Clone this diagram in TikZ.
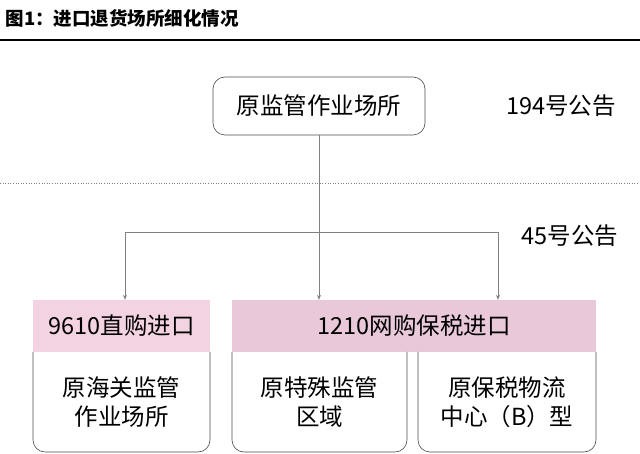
\documentclass[tikz,border=0pt]{standalone}
\usepackage{fontspec}
\usetikzlibrary{arrows.meta}
\setmainfont{Noto Sans CJK SC}
\definecolor{pinkA}{HTML}{F3D3E2}
\definecolor{pinkB}{HTML}{E8C8D9}
\definecolor{ln}{HTML}{808080}
\begin{document}
\begin{tikzpicture}[x=1pt,y=-1pt,
  lbl/.style={font=\fontsize{23.5}{29}\selectfont},
  conn/.style={draw=ln,line width=0.6pt,-{Stealth[length=5pt,width=4pt]}},
  box/.style={draw=black!70,line width=0.6pt}]
\useasboundingbox (0,0) rectangle (640,454);
\node[anchor=west,font=\fontsize{18.5}{22}\selectfont\bfseries] (title) at (2,18) {图1：进口退货场所细化情况};
\draw[line width=1.6pt] (0,40) -- (640,40);
\node[box,rounded corners=12pt,minimum width=212pt,minimum height=58pt,lbl] (top) at (319,106) {原监管作业场所};
\node[lbl] (n194) at (561,106) {194号公告};
\draw[dotted,line width=0.6pt,draw=ln] (0,183) -- (640,183);
\node[lbl] (n45) at (570,236) {45号公告};
\coordinate (jl) at (125,232);
\coordinate (jr) at (498,232);
\coordinate (jm) at (319,232);
\node[fill=pinkA,minimum width=177pt,minimum height=52pt,inner sep=0,lbl] (a) at (121.5,326) {9610直购进口};
\node[fill=pinkB,minimum width=364pt,minimum height=52pt,inner sep=0,lbl] (b) at (414,326) {1210网购保税进口};
\draw[draw=ln,line width=0.6pt] (top.south) -- (jm);
\draw[draw=ln,line width=0.6pt] (jl) -- (jr);
\draw[conn] (jl) -- (jl |- a.north);
\draw[conn] (jm) -- (jm |- b.north);
\draw[conn] (jr) -- (jr |- b.north);
\foreach \xa/\xb/\nm/\txt in {33/210/c1/{原海关监管\\作业场所},232/407/c2/{原特殊监管\\区域},418/596/c3/{原保税物流\\中心（B）型}}{
  \draw[box,rounded corners=12pt] (\xa,352) -- (\xa,452) -- (\xb,452) -- (\xb,352);
  \node[lbl,align=center] (\nm) at ({(\xa+\xb)/2},402) {\txt};
}
\end{tikzpicture}
\end{document}
